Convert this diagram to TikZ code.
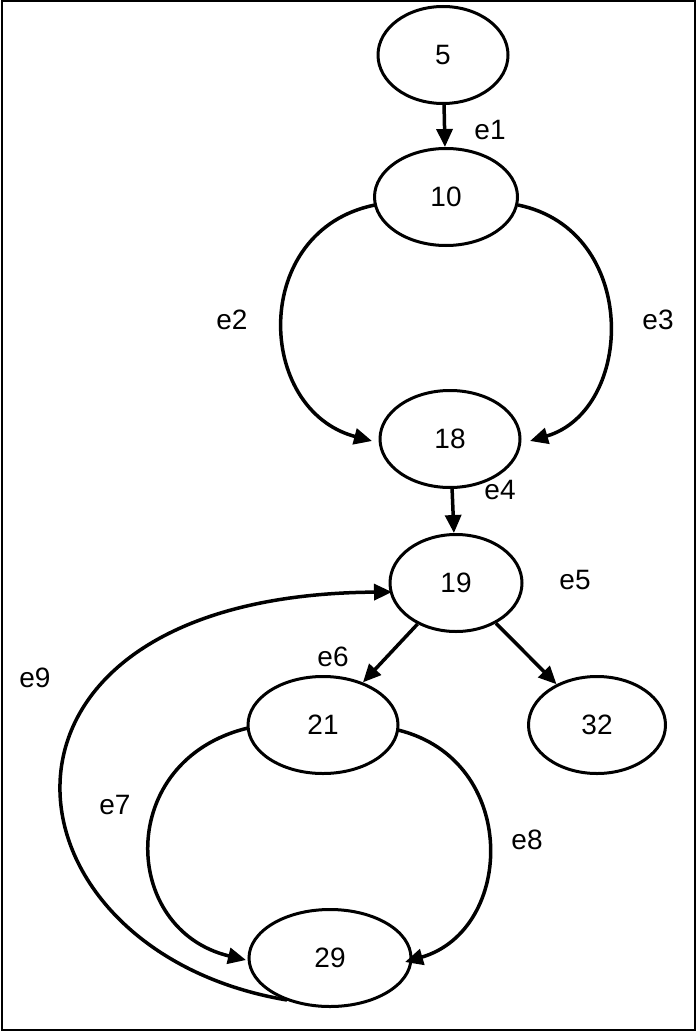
\documentclass[tikz,border=0pt]{standalone}
\usepackage{fontspec}
\setmainfont{Liberation Sans}
\usetikzlibrary{shapes.geometric,arrows.meta}
\begin{document}
\begin{tikzpicture}[x=1pt,y=-1pt,
  st/.style={ellipse,draw,line width=3pt,minimum width=#1,minimum height=97pt,inner sep=0pt,font=\fontsize{28}{28}\selectfont},
  ed/.style={line width=3.5pt,-{Triangle[length=18pt,width=16pt]}},
  lb/.style={font=\fontsize{28}{28}\selectfont}]
\useasboundingbox (0,0) rectangle (697,1032);
\draw[line width=2.5pt] (2,1) rectangle (695,1030);
\node[st=130pt] (n5) at (443,55) {5};
\node[st=143pt] (n10) at (446,197) {10};
\node[st=140pt] (n18) at (450,439) {18};
\node[st=132pt] (n19) at (456,583) {19};
\node[st=150pt] (n21) at (323,725) {21};
\node[st=137pt] (n32) at (597,725) {32};
\node[st=162pt] (n29) at (330,958) {29};
\coordinate (a10l) at (375,205); \coordinate (a10r) at (518,205);
\coordinate (a18l) at (372,441); \coordinate (a18r) at (530,441);
\coordinate (a21l) at (248,728); \coordinate (a21r) at (398,730);
\coordinate (a29l) at (246,960); \coordinate (a29r) at (405,962);
\coordinate (a29b) at (287,1000); \coordinate (a19l) at (392,592);
\draw[ed] (n5) -- (n10);
\draw[ed] (a10l) .. controls (250,230) and (255,410) .. (a18l);
\draw[ed] (a10r) .. controls (640,230) and (635,410) .. (a18r);
\draw[ed] (n18) -- (n19);
\draw[ed] (n19) -- (n32);
\draw[ed] (n19) -- (n21);
\draw[ed] (a21l) .. controls (115,760) and (120,930) .. (a29l);
\draw[ed] (a21r) .. controls (520,760) and (515,930) .. (a29r);
\draw[ed] (a29b) .. controls (-10,950) and (-50,595) .. (a19l);
\node[lb] (l1) at (490,130) {e1};
\node[lb] (l2) at (232,320) {e2};
\node[lb] (l3) at (658,320) {e3};
\node[lb] (l4) at (500,490) {e4};
\node[lb] (l5) at (575,580) {e5};
\node[lb] (l6) at (333,657) {e6};
\node[lb] (l7) at (115,805) {e7};
\node[lb] (l8) at (527,840) {e8};
\node[lb] (l9) at (35,678) {e9};
\end{tikzpicture}
\end{document}
